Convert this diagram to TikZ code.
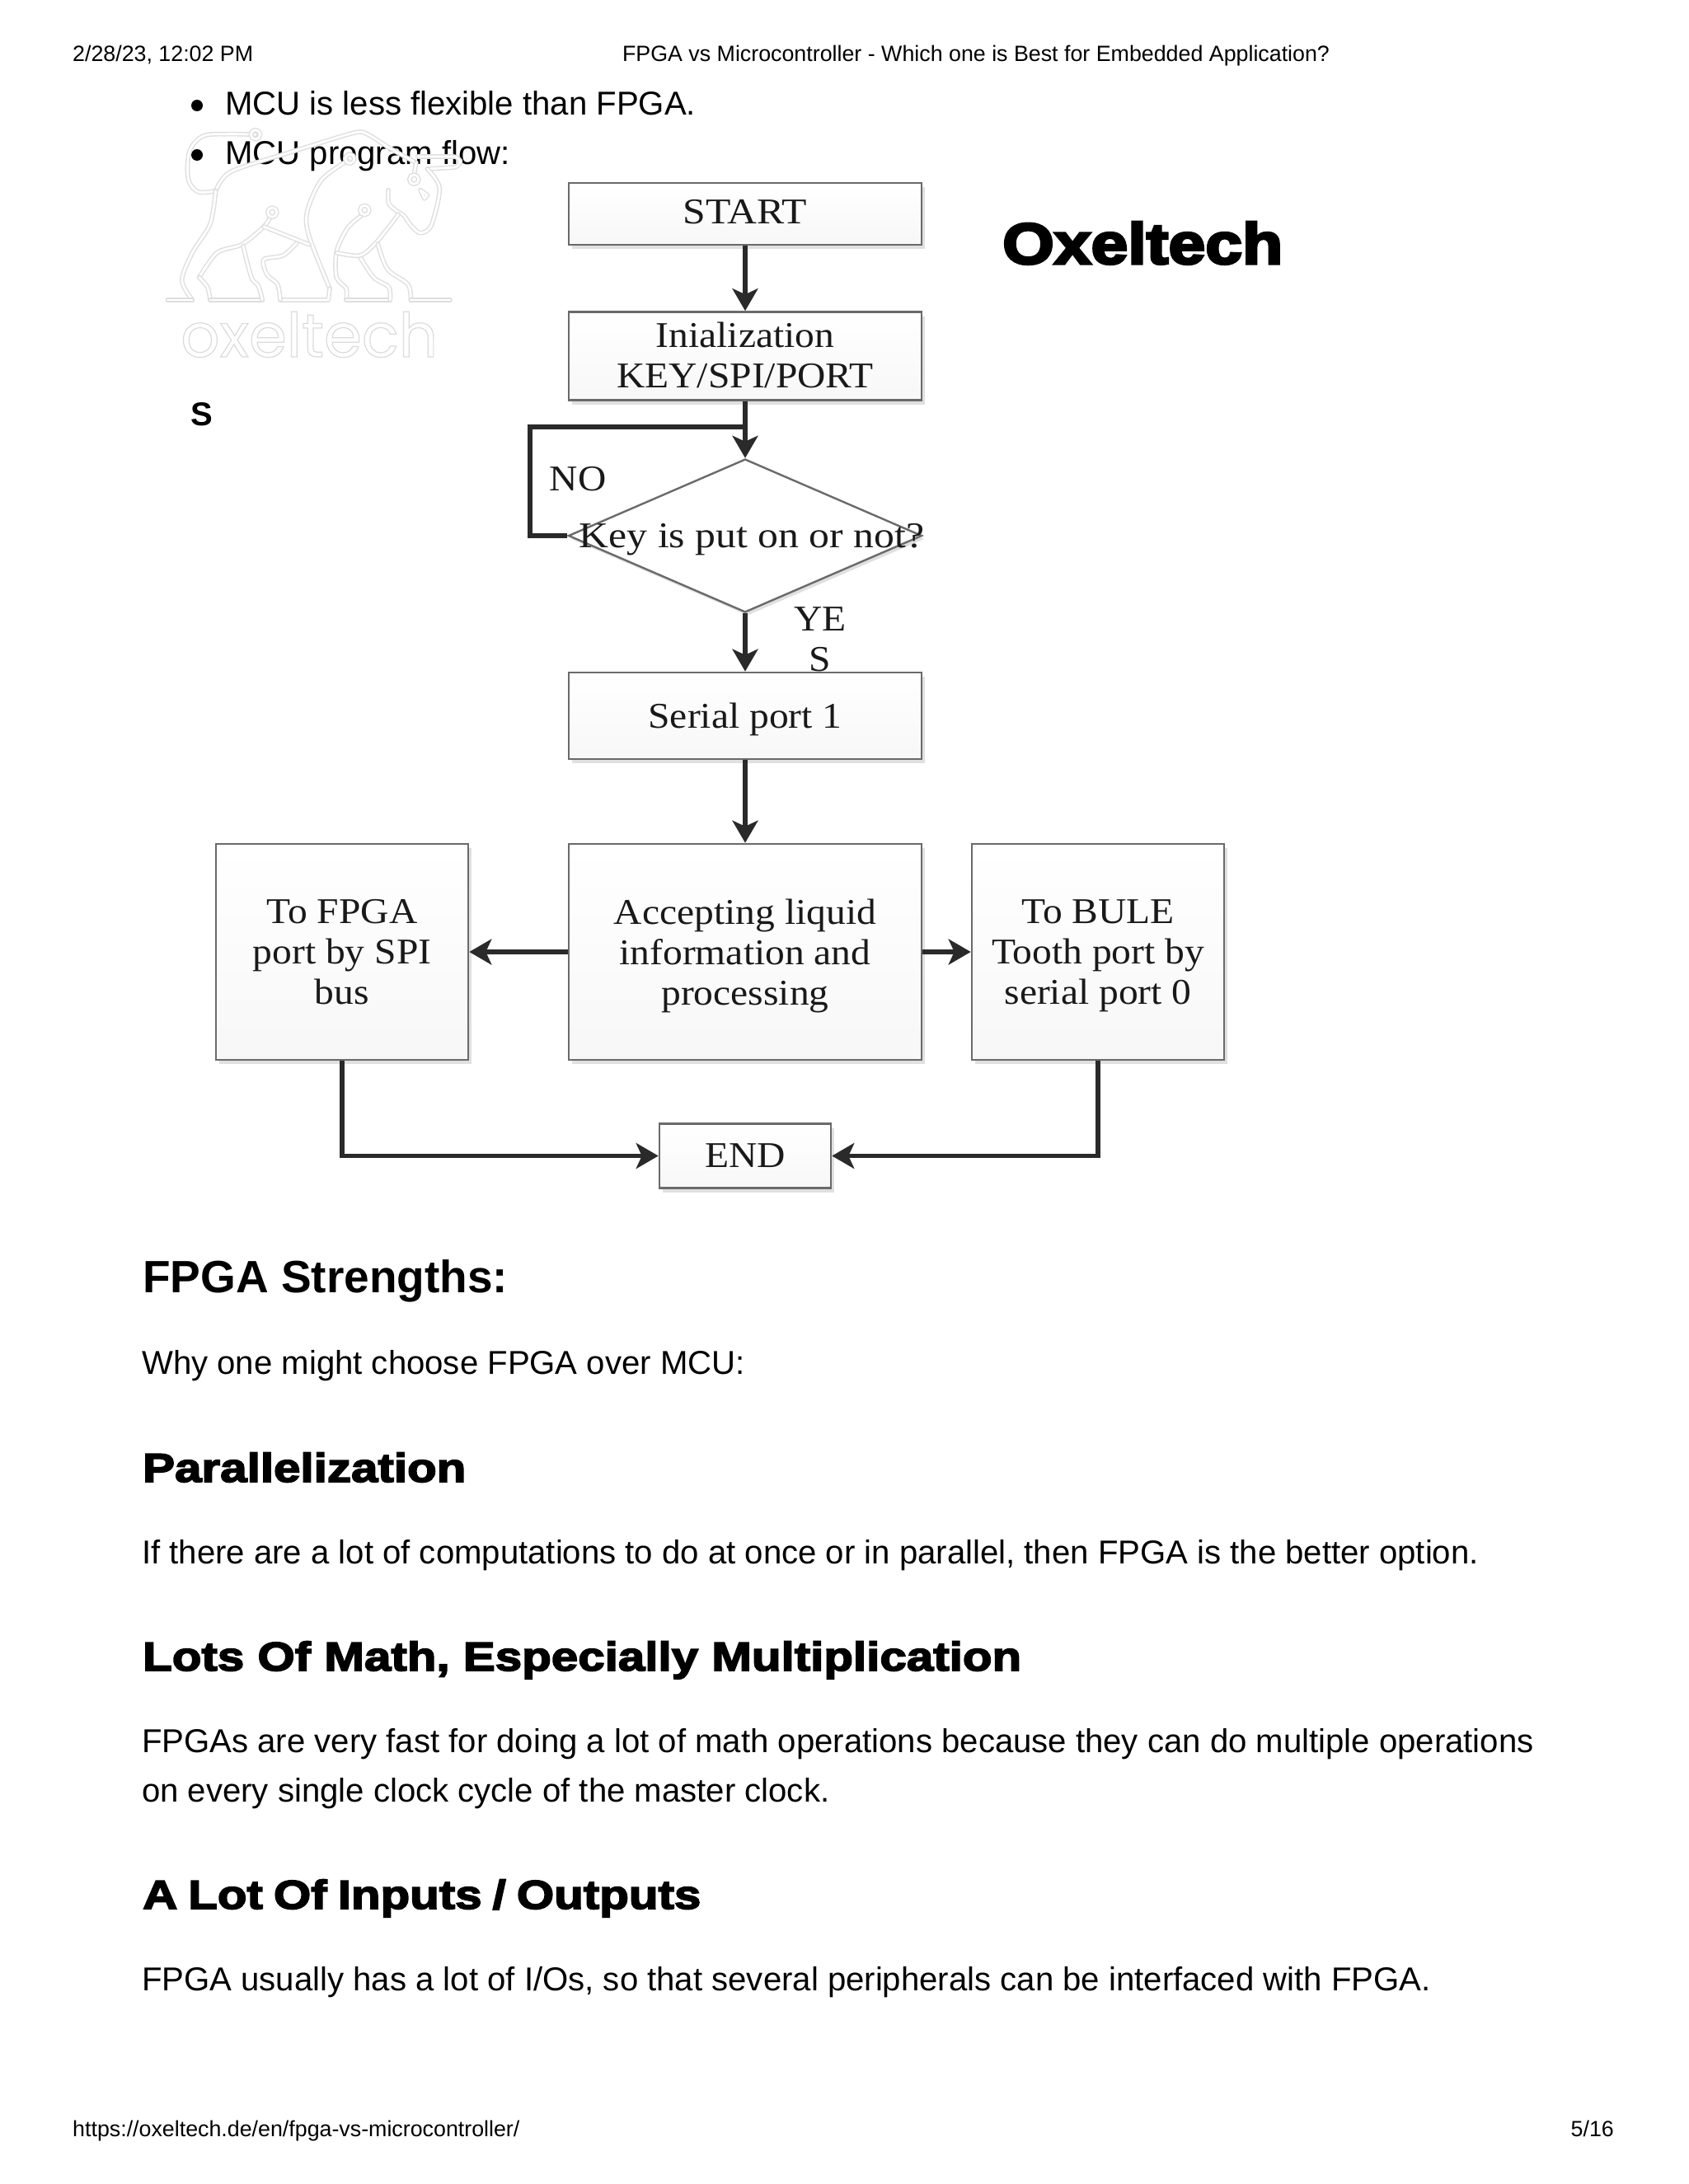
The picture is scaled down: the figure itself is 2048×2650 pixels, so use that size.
\documentclass[tikz,border=0pt]{standalone}
\usepackage{fontspec}
\usetikzlibrary{arrows.meta,shapes.geometric,shadows,calc}
\setmainfont{Liberation Sans}
\newfontfamily\dserif{Liberation Serif}[FakeStretch=1.08]
\newfontfamily\dserifw{Liberation Serif}[FakeStretch=1.13]
\newfontfamily\heavyf{Liberation Sans}[BoldFeatures={FakeBold=3.5,FakeStretch=1.19}]
\newfontfamily\brandf{Liberation Sans}[BoldFeatures={FakeBold=4.5,FakeStretch=1.15}]
\newfontfamily\wmfont{Poppins}
\definecolor{inkc}{HTML}{2A2A2A}
\definecolor{edgec}{HTML}{6A6A6A}
\definecolor{wmc}{HTML}{DEDEDE}
\tikzset{
  txt/.style={anchor=base west,inner sep=0pt,text=black},
  bodytxt/.style={txt,font=\fontsize{40.13}{48}\selectfont},
  hdrtxt/.style={txt,font=\fontsize{26.8}{32}\selectfont},
  h2txt/.style={txt,font=\fontsize{55}{60}\selectfont\bfseries},
  h3txt/.style={txt,font=\fontsize{49}{60}\selectfont\heavyf\bfseries},
  dtxt/.style={font=\fontsize{44}{49}\selectfont\dserif,text=black!90,align=center,inner sep=0pt},
  dwide/.style={font=\fontsize{44}{49}\selectfont\dserifw},
  fbox/.style={draw=edgec,line width=2.6pt,top color=white,bottom color=black!3,
    copy shadow={shadow xshift=4pt,shadow yshift=-5pt,draw=none,fill=black!12},
    dtxt,anchor=center},
  conn/.style={draw=inkc,line width=5.2pt},
  arr/.style={conn,-{Stealth[length=27pt,width=31pt,inset=7pt]}},
  bullet/.style={circle,fill=black,inner sep=0pt,minimum size=14pt},
  wm/.style={draw=wmc,line width=1.4pt,double=white,double distance=2.8pt,line cap=round,line join=round},
}
\begin{document}
\begin{tikzpicture}[x=1pt,y=-1pt]
\useasboundingbox[fill=white] (0,0) rectangle (2048,2650);
% page furniture
\node[hdrtxt] (hdate) at (88,74) {2/28/23, 12:02 PM};
\node[hdrtxt,anchor=base] (htitle) at (1184,74) {FPGA vs Microcontroller - Which one is Best for Embedded Application?};
\node[hdrtxt] (furl) at (88,2592) {https://oxeltech.de/en/fpga-vs-microcontroller/};
\node[hdrtxt,anchor=base east] (fpage) at (1958,2592) {5/16};
% body
\node[bullet] (b1) at (239,128) {};
\node[bodytxt] (t1) at (273,139) {MCU is less flexible than FPGA.};
\node[bullet] (b2) at (239,188) {};
\node[bodytxt] (t2) at (273,199) {MCU program flow:};
\node[txt,font=\fontsize{40}{48}\selectfont\bfseries] (ts) at (231,516) {S};
\node[txt,font=\fontsize{70}{80}\selectfont\brandf\bfseries] (brand) at (1216,320) {Oxeltech};
\node[h2txt] (h1) at (173,1568) {FPGA Strengths:};
\node[bodytxt] (t3) at (172,1667) {Why one might choose FPGA over MCU:};
\node[h3txt] (h2) at (173,1798) {Parallelization};
\node[bodytxt] (t4) at (172,1897) {If there are a lot of computations to do at once or in parallel, then FPGA is the better option.};
\node[h3txt] (h3) at (173,2027) {Lots Of Math, Especially Multiplication};
\node[bodytxt] (t5) at (172,2126) {FPGAs are very fast for doing a lot of math operations because they can do multiple operations};
\node[bodytxt] (t6) at (172,2186) {on every single clock cycle of the master clock.};
\node[h3txt] (h4) at (173,2316) {\spaceskip=13pt A Lot Of Inputs / Outputs};
\node[bodytxt] (t7) at (172,2415) {FPGA usually has a lot of I/Os, so that several peripherals can be interfaced with FPGA.};
% flowchart
\node[fbox,dwide,minimum width=428pt,minimum height=75pt] (start) at (904,259.5) {\raisebox{5pt}{START}};
\node[fbox,minimum width=428pt,minimum height=107pt] (init) at (904,432) {\raisebox{3pt}{Inialization}\\\raisebox{3pt}{KEY/SPI/PORT}};
\node[diamond,draw=edgec,line width=2.4pt,fill=white,inner sep=0pt,aspect=2.3,minimum width=429pt,minimum height=186pt,
  copy shadow={shadow xshift=3pt,shadow yshift=-4pt,draw=none,fill=black!12}] (dec) at (904,650) {};
\node[dtxt,dwide] (dect) at (912,650) {\raisebox{0pt}[\height][0pt]{Key is put on or not?}};
\node[fbox,minimum width=428pt,minimum height=105pt] (ser) at (904,868.5) {\raisebox{0pt}[\height][0pt]{Serial port 1}};
\node[fbox,minimum width=428pt,minimum height=262pt] (acc) at (904,1155) {Accepting liquid\\information and\\\smash{processing}};
\node[fbox,minimum width=306pt,minimum height=262pt] (fpga) at (415,1155) {To FPGA\\port by SPI\\bus};
\node[fbox,minimum width=306pt,minimum height=262pt] (bule) at (1332,1155) {To BULE\\Tooth port by\\\smash{serial port 0}};
\node[fbox,minimum width=208pt,minimum height=78pt] (endn) at (904,1402.5) {END};
\node[dtxt] (nolab) at (701,581) {NO};
\node[dtxt] (yeslab) at (995,776) {YE\\S};
\coordinate (jn) at (904,518);
\coordinate (lp) at (643,518);
\draw[arr] (start) -- (init);
\draw[arr] (init.south) -- (dec.north);
\draw[conn] (dec.west) -| (lp) -- (jn);
\draw[arr] (dec.south) -- (ser.north);
\draw[arr] (ser) -- (acc);
\draw[arr] (acc) -- (fpga);
\draw[arr] (acc) -- (bule);
\draw[arr] (fpga.south) |- (endn.west);
\draw[arr] (bule.south) |- (endn.east);
% watermark
\begin{scope}[shift={(190,140)},x=0.3333pt,y=-0.3333pt]
\draw[wm] plot[smooth,tension=0.55] coordinates {(360,70) (260,68) (170,75) (120,130) (115,230) (150,278) (215,275)};
\draw[wm] plot[smooth,tension=0.45] coordinates {(215,275) (270,205) (500,130) (720,63) (770,70) (850,120) (940,170)};
\draw[wm,rounded corners=8pt] (950,150) -- (1105,150) -- (1105,188) -- (985,195);
\draw[wm] (945,172) -- (937,215);
\draw[wm] plot[smooth,tension=0.5] coordinates {(985,195) (1030,265) (1000,400) (960,428) (925,400) (900,365) (870,345) (845,320) (843,272)};
\draw[wm] plot[smooth,tension=0.5] coordinates {(215,275) (195,395) (130,500) (92,600) (130,672)};
\draw[wm] (130,672) -- (40,672);
\draw[wm] plot[smooth,tension=0.5] coordinates {(695,165) (600,235) (548,350) (555,440) (630,630)};
\draw[wm] (630,630) -- (625,672) -- (450,672);
\draw[wm] plot[smooth,tension=0.5] coordinates {(450,672) (440,615) (402,580) (390,525) (460,510) (510,465)};
\draw[wm] plot[smooth,tension=0.5] coordinates {(412,375) (385,410) (310,470) (220,500) (155,590)};
\draw[wm] plot[smooth,tension=0.5] coordinates {(155,590) (185,625) (195,672)};
\draw[wm] (195,672) -- (385,672);
\draw[wm] plot[smooth,tension=0.5] coordinates {(385,672) (370,620) (345,590) (315,475)};
\draw[wm] (390,405) -- (555,470);
\draw[wm] plot[smooth,tension=0.5] coordinates {(745,365) (695,410) (655,495) (655,590) (690,630) (690,672)};
\draw[wm] (690,672) -- (850,672);
\draw[wm] plot[smooth,tension=0.5] coordinates {(850,672) (845,625) (790,590) (740,515)};
\draw[wm] plot[smooth,tension=0.5] coordinates {(655,500) (740,510) (800,462) (880,360)};
\draw[wm] plot[smooth,tension=0.5] coordinates {(805,468) (840,560) (915,615) (925,672)};
\draw[wm] (925,672) -- (1068,672);
\draw[wm] (960,272) -- (985,290) -- (975,303) -- cycle;
\draw[wm] (360,70) circle (17);
\draw[wm] (703,158) circle (17);
\draw[wm] (937,233) circle (17);
\draw[wm] (421,353) circle (17);
\draw[wm] (757,345) circle (17);
\end{scope}
\node[txt,font=\fontsize{74}{80}\selectfont\wmfont] (wmt) at (219,433) {\special{pdf:code 1 Tr 1.2 w 0.86 0.86 0.86 RG}oxeltech\special{pdf:code 0 Tr 0 0 0 RG}};
\end{tikzpicture}
\end{document}
